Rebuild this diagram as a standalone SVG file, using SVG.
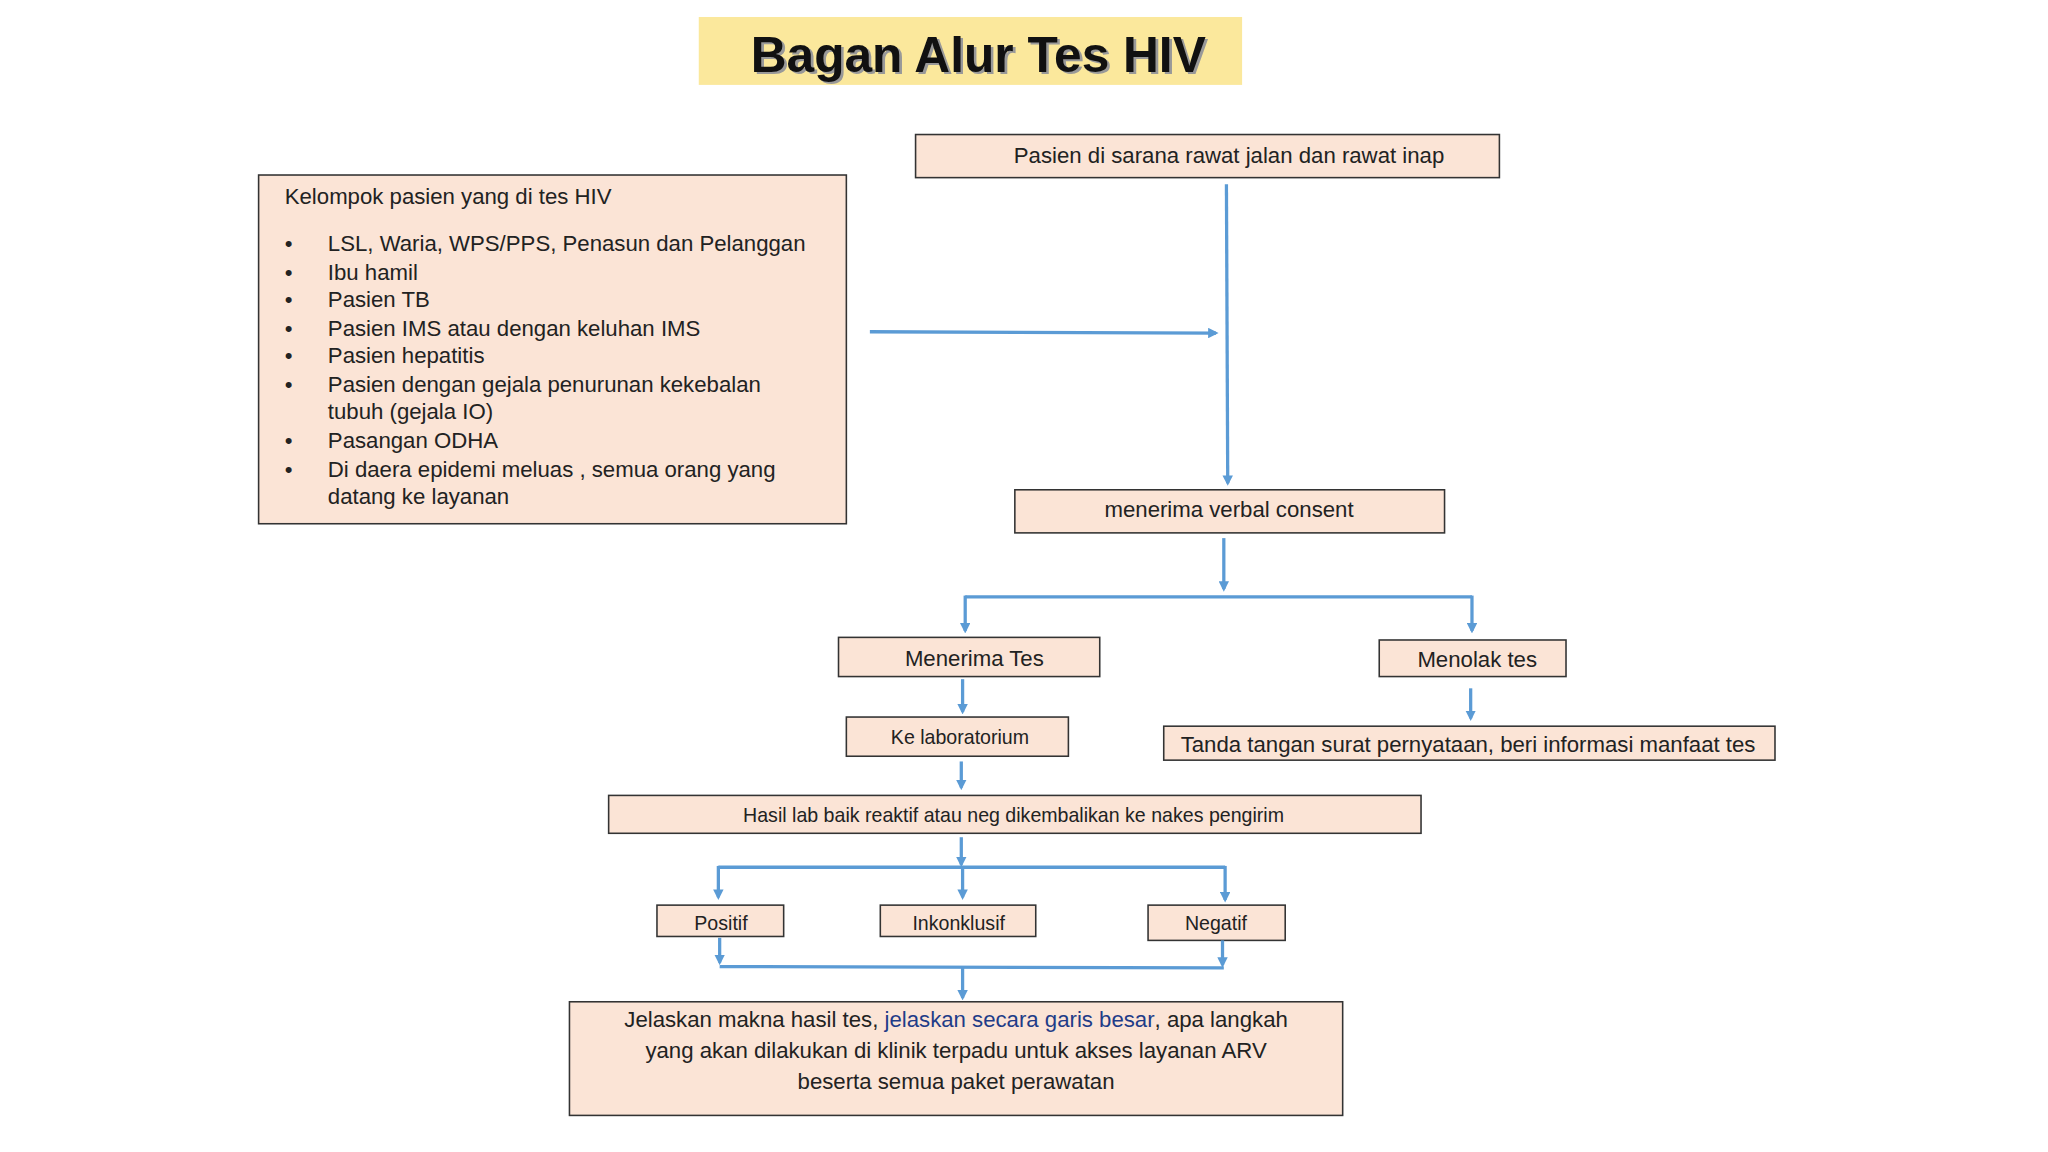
<svg xmlns="http://www.w3.org/2000/svg" width="2048" height="1152" viewBox="0 0 2048 1152">
<defs>
<marker id="ah" markerWidth="8" markerHeight="8" refX="6" refY="4" orient="auto" markerUnits="userSpaceOnUse"><path d="M0,0 L8,4 L0,8 z" fill="#5b9bd5"/></marker>
<style>
.b{fill:#fbe4d6;stroke:#333;stroke-width:1.2}
.t{font-family:"Liberation Sans",Arial,sans-serif;font-size:17px;fill:#222}
.s{font-size:15px}
.c{text-anchor:middle}
.l{stroke:#5b9bd5;stroke-width:2.5;fill:none}
.a{stroke:#5b9bd5;stroke-width:2.5;fill:none;marker-end:url(#ah)}
</style>
</defs>
<rect width="2048" height="1152" fill="#fff"/>
<g transform="scale(1.3061)">
<g id="title"><rect x="535" y="13" width="416" height="52" fill="#fbe89c"/>
<text x="751" y="57" class="c" font-family="Liberation Sans,Arial,sans-serif" font-weight="bold" font-size="38" fill="#999">Bagan Alur Tes HIV</text>
<text x="749" y="55" class="c" font-family="Liberation Sans,Arial,sans-serif" font-weight="bold" font-size="38" fill="#111">Bagan Alur Tes HIV</text></g>
<g id="n1"><rect class="b" x="701" y="103" width="447" height="33"/><text class="t c" x="941" y="125">Pasien di sarana rawat jalan dan rawat inap</text></g>
<g id="groups"><rect class="b" x="198" y="134" width="450" height="267"/>
<text class="t" x="218" y="156">Kelompok pasien yang di tes HIV</text>
<g class="t">
<text x="218" y="192">•</text><text x="251" y="192">LSL, Waria, WPS/PPS, Penasun dan Pelanggan</text>
<text x="218" y="214">•</text><text x="251" y="214">Ibu hamil</text>
<text x="218" y="235">•</text><text x="251" y="235">Pasien TB</text>
<text x="218" y="257">•</text><text x="251" y="257">Pasien IMS atau dengan keluhan IMS</text>
<text x="218" y="278">•</text><text x="251" y="278">Pasien hepatitis</text>
<text x="218" y="300">•</text><text x="251" y="300">Pasien dengan gejala penurunan kekebalan</text>
<text x="251" y="321">tubuh  (gejala IO)</text>
<text x="218" y="343">•</text><text x="251" y="343">Pasangan ODHA</text>
<text x="218" y="365">•</text><text x="251" y="365">Di daera epidemi meluas , semua orang yang</text>
<text x="251" y="386">datang  ke layanan</text></g></g>
<g id="n2"><rect class="b" x="777" y="375" width="329" height="33"/><text class="t c" x="941" y="396">menerima verbal consent</text></g>
<g id="n3"><rect class="b" x="642" y="488" width="200" height="30"/><text class="t c" x="746" y="510">Menerima Tes</text></g>
<g id="n4"><rect class="b" x="1056" y="490" width="143" height="28"/><text class="t c" x="1131" y="511">Menolak tes</text></g>
<g id="n5"><rect class="b" x="648" y="549" width="170" height="30"/><text class="t s c" x="735" y="570">Ke laboratorium</text></g>
<g id="n6"><rect class="b" x="891" y="556" width="468" height="26"/><text class="t c" x="1124" y="576">Tanda tangan surat pernyataan, beri informasi manfaat tes</text></g>
<g id="n7"><rect class="b" x="466" y="609" width="622" height="29"/><text class="t s c" x="776" y="629">Hasil lab baik reaktif atau neg dikembalikan ke nakes pengirim</text></g>
<g id="n8"><rect class="b" x="503" y="693" width="97" height="24"/><text class="t s c" x="552" y="712">Positif</text></g>
<g id="n9"><rect class="b" x="674" y="693" width="119" height="24"/><text class="t s c" x="734" y="712">Inkonklusif</text></g>
<g id="n10"><rect class="b" x="879" y="693" width="105" height="27"/><text class="t s c" x="931" y="712">Negatif</text></g>
<g id="n11"><rect class="b" x="436" y="767" width="592" height="87"/>
<text class="t c" x="732" y="786">Jelaskan makna hasil tes, <tspan fill="#1f3c88">jelaskan secara garis besar</tspan>, apa langkah</text>
<text class="t c" x="732" y="810">yang akan  dilakukan di klinik terpadu untuk akses layanan ARV</text>
<text class="t c" x="732" y="834">beserta semua paket  perawatan</text></g>
<g id="connectors">
<path class="a" d="M666,254 L931,255"/>
<path class="a" d="M939,141 L940,370"/>
<path class="a" d="M937,412 L937,451"/>
<path class="l" d="M739,457 L1127,457"/>
<path class="a" d="M739,456 L739,483"/>
<path class="a" d="M1127,456 L1127,483"/>
<path class="a" d="M737,520 L737,545"/>
<path class="a" d="M1126,527 L1126,550"/>
<path class="a" d="M736,583 L736,603"/>
<path class="a" d="M736,641 L736,662"/>
<path class="l" d="M550,664 L938,664"/>
<path class="a" d="M550,663 L550,687"/>
<path class="a" d="M737,663 L737,687"/>
<path class="a" d="M938,663 L938,689"/>
<path class="a" d="M551,718 L551,737"/>
<path class="a" d="M936,720 L936,739"/>
<path class="l" d="M551,740 L937,741"/>
<path class="a" d="M737,741 L737,764"/>
</g>
</g>
</svg>
